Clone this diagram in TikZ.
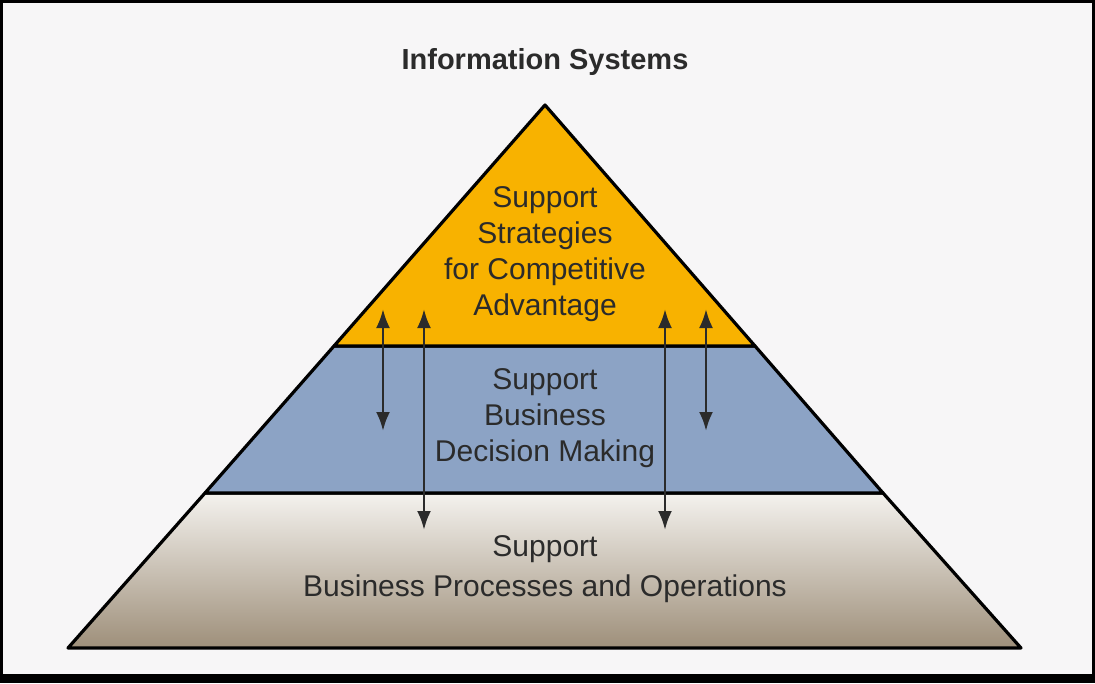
\documentclass[tikz,border=0pt]{standalone}
\usepackage{fontspec}
\setmainfont{Liberation Sans}
\usetikzlibrary{arrows.meta}

\definecolor{pagegray}{HTML}{F7F6F7}
\definecolor{topgold}{HTML}{F8B200}
\definecolor{midblue}{HTML}{8CA3C5}
\definecolor{baselight}{HTML}{F4F2EE}
\definecolor{basemid}{HTML}{D8D0C2}
\definecolor{basedark}{HTML}{9E8F7A}
\definecolor{inkgray}{HTML}{2B2B2B}

\begin{document}
\begin{tikzpicture}[
    x = 1pt,
    y = -1pt,
    line join = round,
    ]

    \tikzstyle{tier}=[
    draw = black,
    line width = 3.2pt,
    ]

    \tikzstyle{tiertext}=[
    text = inkgray,
    align = center,
    font = \fontsize{30}{36}\selectfont,
    ]

    \tikzstyle{link}=[
    {Latex[length=19pt,width=14pt]}-{Latex[length=19pt,width=14pt]},
    line width = 2.8pt,
    draw = inkgray,
    ]

    % frame
    \useasboundingbox (0,0) rectangle (1095,683);
    \fill[black] (0,0) rectangle (1095,683);
    \fill[pagegray] (3,3) rectangle (1092,674);

    % pyramid corners
    \coordinate (apex) at (545,105);
    \coordinate (tl) at (334,346);
    \coordinate (tr) at (755,346);
    \coordinate (ml) at (205,493);
    \coordinate (mr) at (883,493);
    \coordinate (bl) at (68,648);
    \coordinate (br) at (1021,648);

    \path[tier, top color=baselight, middle color=basemid, bottom color=basedark]
        (ml) -- (mr) -- (br) -- (bl) -- cycle;
    \path[tier, fill=midblue] (tl) -- (tr) -- (mr) -- (ml) -- cycle;
    \path[tier, fill=topgold] (apex) -- (tr) -- (tl) -- cycle;

    % arrow ends
    \coordinate (s1) at (383,309);
    \coordinate (e1) at (383,431);
    \coordinate (s2) at (424,309);
    \coordinate (e2) at (424,530);
    \coordinate (s3) at (665,309);
    \coordinate (e3) at (665,530);
    \coordinate (s4) at (706,309);
    \coordinate (e4) at (706,431);

    \draw[link] (s1) -- (e1);
    \draw[link] (s2) -- (e2);
    \draw[link] (s3) -- (e3);
    \draw[link] (s4) -- (e4);

    \node[tiertext, font=\bfseries\fontsize{29}{34}\selectfont] (title) at (545,62) {Information Systems};
    \node[tiertext] (strategy) at (545,254) {Support\\Strategies\\for Competitive\\Advantage};
    \node[tiertext] (decision) at (545,418) {Support\\Business\\Decision Making};
    \node[tiertext] (operations) at (545,569) {Support\\[4pt]Business Processes and Operations};
\end{tikzpicture}
\end{document}
